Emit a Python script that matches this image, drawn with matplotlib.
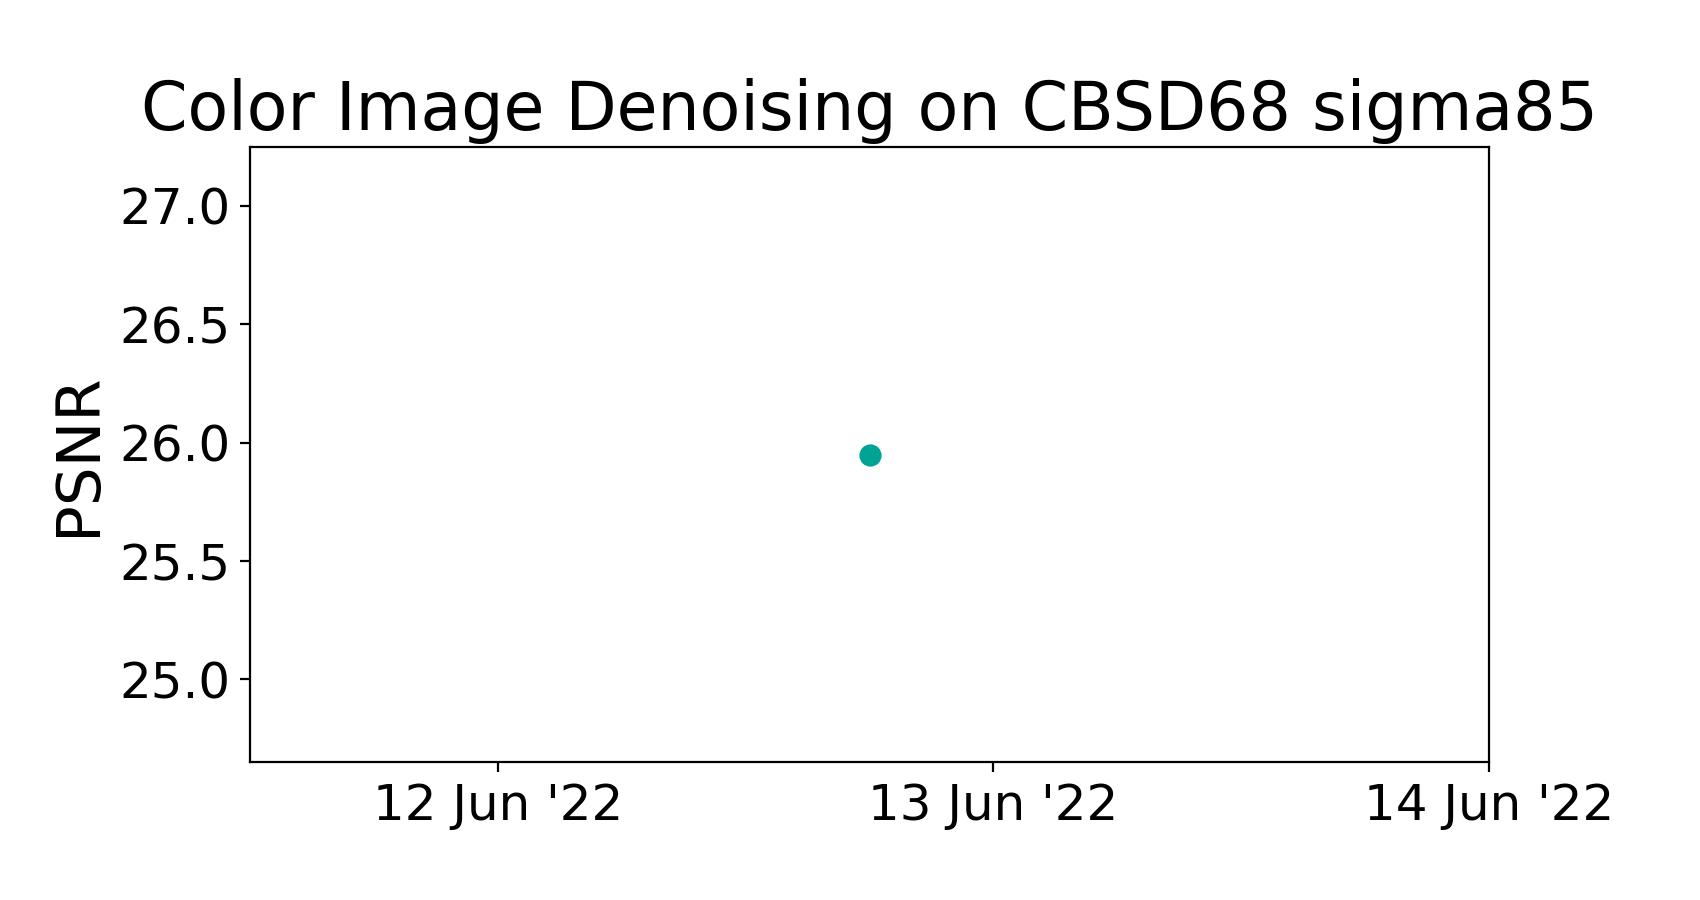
import matplotlib
matplotlib.use("Agg")
import matplotlib.pyplot as plt
import matplotlib.dates as mdates
import pandas as pd

# data
dates = pd.to_datetime(["2022-06-12 18:00"])
psnr = [25.95]

fig, ax = plt.subplots(figsize=(8.5, 4.5), dpi=200)
ax.plot(dates, psnr, "o", color="#00a396", markersize=7)

ax.set_title("Color Image Denoising on CBSD68 sigma85", fontsize=24)
ax.set_ylabel("PSNR", fontsize=22)
ax.set_ylim(24.65, 27.25)
ax.set_yticks([25.0, 25.5, 26.0, 26.5, 27.0])
ax.set_xlim(pd.Timestamp("2022-06-11 12:00"), pd.Timestamp("2022-06-14"))
ax.xaxis.set_major_locator(mdates.DayLocator(bymonthday=[12, 13, 14]))
ax.xaxis.set_major_formatter(mdates.DateFormatter("%d %b '%y"))
ax.tick_params(labelsize=18)

plt.subplots_adjust(left=0.147, right=0.876, top=0.837, bottom=0.153)
plt.savefig("out.png")
